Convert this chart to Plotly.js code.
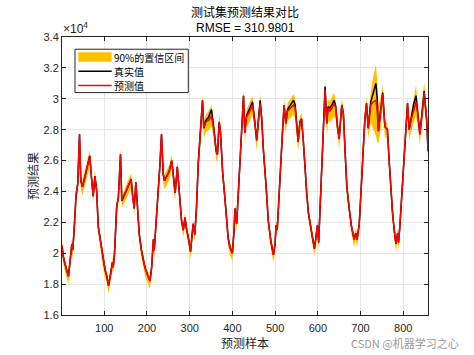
<!DOCTYPE html>
<html><head><meta charset="utf-8">
<script src="https://cdn.plot.ly/plotly-3.0.1.min.js"></script>
<style>html,body{margin:0;padding:0;background:#fff}#chart{width:474px;height:355px}</style>
</head><body><div id="chart"></div>
<script>
// values in units of 10^4
const sampleIdx = [1,4,8,12,16,20,24,26,29,34,38,42,45,49,55,60,63,66,70,74,78,82,86,90,94,98,102,106,110,115,119,121,124,129,133,138,141,146,152,159,163,166,170,174,178,182,187,191,195,201,207,211,215,217,221,227,230,234,238,241,246,252,258,262,266,271,276,281,285,289,293,297,302,308,312,316,320,326,330,333,338,344,351,357,362,365,369,372,377,383,387,390,394,400,404,406,410,414,418,422,426,429,433,441,447,451,457,461,465,469,472,479,484,490,496,500,502,505,508,513,517,521,525,529,535,543,547,550,554,558,562,566,570,574,578,583,588,592,596,599,602,607,611,614,617,621,624,628,633,638,642,646,650,656,660,664,668,673,679,685,689,692,697,701,705,710,714,718,724,730,736,739,742,746,752,757,763,767,771,775,779,783,787,789,792,796,802,806,810,814,818,824,830,834,839,845,849,855,858];
const predVals = [2.05,1.98,1.93,1.88,1.85,1.95,2.06,2.02,2.13,2.38,2.45,2.77,2.47,2.43,2.50,2.55,2.58,2.63,2.49,2.37,2.50,2.41,2.17,2.10,2.00,1.93,1.89,1.85,1.79,1.87,1.94,1.91,2.00,2.30,2.36,2.64,2.34,2.37,2.41,2.45,2.48,2.38,2.29,2.46,2.28,2.12,2.02,1.96,1.91,1.86,1.82,1.91,2.09,2.02,2.17,2.43,2.56,2.77,2.51,2.47,2.50,2.53,2.60,2.47,2.39,2.56,2.39,2.21,2.15,2.23,2.15,2.10,2.01,2.19,2.12,2.30,2.58,2.79,2.99,2.81,2.85,2.86,2.89,2.79,2.66,2.64,2.85,2.79,2.53,2.34,2.21,2.10,2.04,2.00,2.15,2.29,2.19,2.41,2.62,2.86,3.02,2.78,2.88,2.92,2.96,2.88,2.73,2.86,2.97,2.86,2.69,2.43,2.21,2.08,1.99,2.06,2.18,2.15,2.32,2.62,2.77,2.96,2.84,2.92,2.94,2.96,2.94,2.84,2.72,2.85,2.87,2.73,2.54,2.39,2.26,2.17,2.11,2.03,2.11,2.18,2.07,2.43,2.71,2.93,3.06,2.84,2.94,2.92,2.94,2.97,2.94,2.82,2.74,2.96,2.90,2.65,2.43,2.30,2.17,2.09,2.13,2.09,2.19,2.39,2.65,2.86,2.97,2.81,2.96,2.98,2.99,2.92,2.79,2.90,3.03,2.82,2.80,2.60,2.39,2.26,2.15,2.06,2.13,2.07,2.17,2.34,2.60,2.82,2.97,2.80,2.86,2.92,2.98,2.90,2.77,2.92,3.04,2.86,2.66];
const trueVals = [2.05,1.98,1.93,1.88,1.85,1.95,2.06,2.02,2.13,2.38,2.45,2.77,2.47,2.43,2.50,2.55,2.58,2.63,2.49,2.37,2.50,2.41,2.17,2.10,2.00,1.93,1.89,1.85,1.79,1.87,1.94,1.91,2.00,2.30,2.36,2.64,2.34,2.37,2.41,2.45,2.48,2.38,2.29,2.46,2.28,2.12,2.02,1.96,1.91,1.86,1.82,1.91,2.09,2.02,2.17,2.43,2.56,2.77,2.51,2.47,2.50,2.53,2.60,2.47,2.39,2.56,2.39,2.21,2.15,2.23,2.15,2.10,2.01,2.19,2.12,2.30,2.58,2.79,2.99,2.81,2.86,2.88,2.93,2.80,2.66,2.64,2.85,2.79,2.53,2.34,2.21,2.10,2.04,2.00,2.15,2.29,2.19,2.41,2.62,2.86,3.02,2.78,2.89,2.94,2.98,2.89,2.73,2.87,2.99,2.86,2.69,2.43,2.21,2.08,1.99,2.06,2.18,2.15,2.32,2.62,2.77,2.96,2.84,2.93,2.96,2.99,2.96,2.85,2.72,2.85,2.87,2.73,2.54,2.39,2.26,2.17,2.11,2.03,2.11,2.18,2.07,2.43,2.71,2.93,3.08,2.84,2.95,2.94,2.96,2.99,2.95,2.82,2.74,2.96,2.90,2.65,2.43,2.30,2.17,2.09,2.13,2.09,2.19,2.39,2.65,2.86,2.97,2.81,2.98,3.05,3.10,3.00,2.79,2.90,3.04,2.82,2.80,2.60,2.39,2.26,2.15,2.06,2.13,2.07,2.17,2.34,2.60,2.82,2.97,2.80,2.87,2.96,3.02,2.92,2.77,2.94,3.05,2.86,2.66];
const lowerVals = [2.00,1.93,1.88,1.83,1.80,1.90,2.01,1.97,2.085,2.335,2.395,2.705,2.415,2.375,2.445,2.495,2.525,2.575,2.435,2.325,2.445,2.355,2.125,2.055,1.95,1.88,1.84,1.80,1.74,1.82,1.89,1.86,1.95,2.255,2.315,2.585,2.295,2.325,2.355,2.395,2.425,2.335,2.245,2.405,2.235,2.075,1.97,1.91,1.86,1.81,1.77,1.86,2.04,1.97,2.125,2.375,2.505,2.705,2.455,2.415,2.445,2.475,2.545,2.415,2.345,2.505,2.345,2.165,2.105,2.185,2.105,2.055,1.96,2.145,2.075,2.255,2.525,2.725,2.925,2.745,2.785,2.795,2.825,2.725,2.605,2.585,2.785,2.725,2.475,2.295,2.165,2.055,1.99,1.95,2.105,2.245,2.145,2.355,2.565,2.795,2.955,2.715,2.815,2.855,2.895,2.815,2.665,2.795,2.905,2.795,2.635,2.375,2.165,2.03,1.94,2.01,2.135,2.105,2.275,2.565,2.705,2.895,2.775,2.855,2.875,2.895,2.875,2.775,2.655,2.785,2.805,2.665,2.485,2.345,2.215,2.125,2.065,1.98,2.065,2.135,2.02,2.375,2.645,2.865,2.995,2.755,2.855,2.845,2.865,2.885,2.865,2.755,2.675,2.895,2.835,2.595,2.375,2.255,2.125,2.04,2.085,2.04,2.145,2.345,2.595,2.795,2.905,2.745,2.845,2.80,2.76,2.72,2.71,2.785,2.945,2.755,2.735,2.545,2.345,2.215,2.105,2.01,2.085,2.02,2.125,2.295,2.545,2.755,2.905,2.735,2.785,2.845,2.885,2.825,2.705,2.845,2.965,2.795,2.605];
const upperVals = [2.08,2.01,1.96,1.91,1.88,1.98,2.09,2.05,2.16,2.41,2.49,2.81,2.51,2.47,2.54,2.59,2.62,2.67,2.53,2.40,2.54,2.45,2.20,2.13,2.03,1.96,1.92,1.88,1.82,1.90,1.97,1.94,2.03,2.33,2.39,2.68,2.37,2.40,2.45,2.49,2.52,2.41,2.32,2.50,2.31,2.15,2.05,1.99,1.94,1.89,1.85,1.94,2.12,2.05,2.20,2.47,2.60,2.81,2.55,2.51,2.54,2.57,2.64,2.51,2.42,2.60,2.42,2.24,2.18,2.26,2.18,2.13,2.04,2.22,2.15,2.33,2.62,2.83,3.03,2.85,2.90,2.92,2.96,2.84,2.70,2.68,2.89,2.83,2.57,2.37,2.24,2.13,2.07,2.03,2.18,2.32,2.22,2.45,2.66,2.90,3.06,2.82,2.93,2.98,3.02,2.93,2.77,2.91,3.03,2.90,2.73,2.47,2.24,2.11,2.02,2.09,2.21,2.18,2.35,2.66,2.81,3.00,2.88,2.97,3.00,3.03,3.00,2.89,2.76,2.89,2.91,2.77,2.58,2.42,2.29,2.20,2.14,2.06,2.14,2.21,2.10,2.47,2.75,2.97,3.14,2.88,3.00,2.98,3.01,3.04,2.99,2.86,2.78,3.00,2.94,2.69,2.47,2.33,2.20,2.12,2.16,2.12,2.22,2.42,2.69,2.90,3.01,2.85,3.05,3.15,3.22,3.12,2.96,2.99,3.09,2.86,2.84,2.64,2.42,2.29,2.18,2.09,2.16,2.10,2.20,2.37,2.64,2.86,3.01,2.84,2.91,3.00,3.09,2.96,2.81,2.99,3.11,2.90,2.70];

const xTickVals = [100,200,300,400,500,600,700,800];
const yTickVals = [1.6,1.8,2.0,2.2,2.4,2.6,2.8,3.0,3.2,3.4];
const yTickText = ['1.6','1.8','2','2.2','2.4','2.6','2.8','3','3.2','3.4'];
const legendNames = ['90%的置信区间','真实值','预测值'];

const band = '#FFC000';
const traces = [
  {x: sampleIdx, y: lowerVals, mode: 'lines', line: {width: 0, color: band}, showlegend: false, hoverinfo: 'skip'},
  {x: sampleIdx, y: upperVals, mode: 'lines', line: {width: 0, color: band}, fill: 'tonexty', fillcolor: band, name: legendNames[0], showlegend: false},
  {x: sampleIdx, y: trueVals, mode: 'lines', line: {color: '#000000', width: 1.5}, name: legendNames[1], showlegend: false},
  {x: sampleIdx, y: predVals, mode: 'lines', line: {color: '#FF0000', width: 1.5}, name: legendNames[2], showlegend: false}
];

const cjk = '"Noto Sans CJK SC", sans-serif';
const latin = '"Liberation Sans", Arial, sans-serif';
const axisCommon = {
  showline: true, linecolor: '#262626', linewidth: 1, mirror: 'ticks',
  ticks: 'inside', ticklen: 4, tickcolor: '#262626', tickwidth: 1,
  showgrid: true, gridcolor: '#e6e6e6', gridwidth: 1, zeroline: false,
  tickfont: {family: latin, size: 11, color: '#262626'}
};

// legend geometry in paper coordinates (manual MATLAB-style legend box)
const lg = {x0: 0.0355, x1: 0.345, y0: 0.80, y1: 0.956, sx0: 0.0445, sx1: 0.1358, tx: 0.1385, rows: [0.928, 0.8766, 0.8255]};

const legendText = (i) => ({text: legendNames[i], xref: 'paper', yref: 'paper', x: lg.tx, y: lg.rows[i], xanchor: 'left', yanchor: 'middle', showarrow: false, borderpad: 0, font: {family: cjk, size: 10, color: '#000000'}});

const layout = {
  width: 474, height: 355,
  margin: {l: 62, r: 46, t: 37, b: 40},
  paper_bgcolor: '#ffffff', plot_bgcolor: '#ffffff',
  showlegend: false,
  xaxis: Object.assign({}, axisCommon, {
    range: [1, 858], tickvals: xTickVals, ticklabelstandoff: 3,
    title: {text: '预测样本', font: {family: cjk, size: 12, color: '#262626'}, standoff: 3}
  }),
  yaxis: Object.assign({}, axisCommon, {
    range: [1.6, 3.4], tickvals: yTickVals, ticktext: yTickText,
    title: {text: '预测结果', font: {family: cjk, size: 12, color: '#262626'}, standoff: 2}
  }),
  shapes: [
    {type: 'rect', xref: 'paper', yref: 'paper', x0: lg.x0, x1: lg.x1, y0: lg.y0, y1: lg.y1, fillcolor: '#ffffff', line: {color: '#262626', width: 1}, layer: 'above'},
    {type: 'rect', xref: 'paper', yref: 'paper', x0: lg.sx0, x1: lg.sx1, y0: lg.rows[0] - 0.017, y1: lg.rows[0] + 0.017, fillcolor: band, line: {width: 0}, layer: 'above'},
    {type: 'line', xref: 'paper', yref: 'paper', x0: lg.sx0, x1: lg.sx1, y0: lg.rows[1], y1: lg.rows[1], line: {color: '#000000', width: 1.5}, layer: 'above'},
    {type: 'line', xref: 'paper', yref: 'paper', x0: lg.sx0, x1: lg.sx1, y0: lg.rows[2], y1: lg.rows[2], line: {color: '#FF0000', width: 1.5}, layer: 'above'}
  ],
  annotations: [
    legendText(0), legendText(1), legendText(2),
    {text: '测试集预测结果对比', xref: 'paper', yref: 'paper', x: 0.5, y: 1.0935, xanchor: 'center', yanchor: 'middle', showarrow: false, font: {family: cjk, size: 12, color: '#000000'}},
    {text: 'RMSE = 310.9801', xref: 'paper', yref: 'paper', x: 0.5, y: 1.0324, xanchor: 'center', yanchor: 'middle', showarrow: false, font: {family: latin, size: 12, color: '#000000'}},
    {text: '×10<sup>4</sup>', xref: 'paper', yref: 'paper', x: -0.003, y: 1.033, xanchor: 'left', yanchor: 'middle', showarrow: false, font: {family: latin, size: 12, color: '#262626'}},
    {text: 'CSDN @机器学习之心', xref: 'paper', yref: 'paper', x: 1.09, y: -0.1, xanchor: 'right', yanchor: 'middle', showarrow: false, font: {family: cjk, size: 11, color: '#9a9a9a'}}
  ]
};

Plotly.newPlot('chart', traces, layout, {displayModeBar: false, staticPlot: true});
</script>
</body></html>
